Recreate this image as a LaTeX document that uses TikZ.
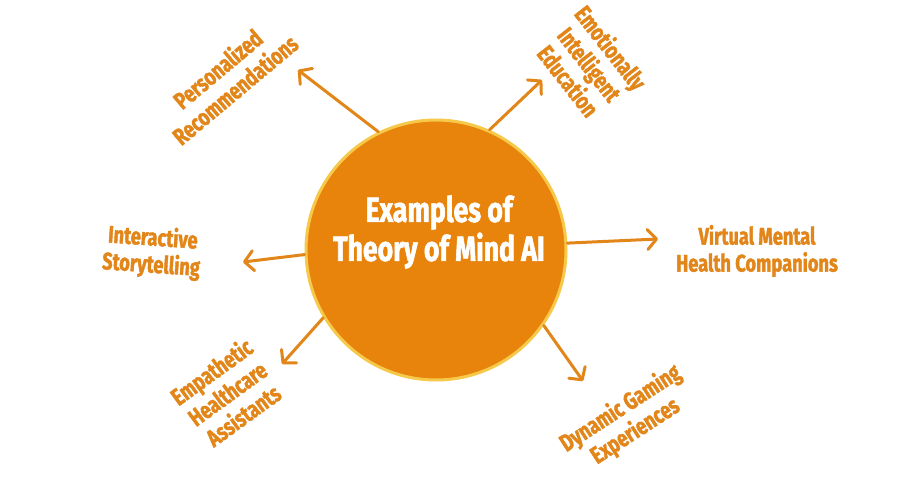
\documentclass[tikz,border=0pt]{standalone}
\usepackage{fontspec}
\usetikzlibrary{arrows.meta}
\newfontfamily\condfont{Fira Sans}[FakeStretch=0.76, BoldFeatures={FakeBold=1.6}]
\definecolor{tomorange}{HTML}{E8830C}
\definecolor{tomyellow}{HTML}{F6C94A}
\definecolor{tomlabel}{HTML}{E2861A}
\tikzset{
  hub/.style={circle, fill=tomorange, draw=tomyellow, line width=3pt,
    minimum size=260pt},
  example/.style={text=tomlabel, align=center,
    font=\condfont\bfseries\fontsize{24}{27}\selectfont},
  spoke/.style={draw=tomlabel, line width=3pt, line cap=round,
    -{Straight Barb[length=9pt, width=20pt, line width=3pt, round]}}
}
\begin{document}
\begin{tikzpicture}[x=1pt, y=1pt]
        \useasboundingbox[fill=white] (0,0) rectangle (900,480);
        \node[hub] (c) at (436,230) {};
        \node[text=white, align=center, font=\condfont\bfseries\fontsize{35}{39}\selectfont] (title) at (439,248) {Examples of\\Theory of Mind AI};
        % arrow tips
        \coordinate (t1) at (298,410);
        \coordinate (t2) at (542,400);
        \coordinate (t3) at (243,218);
        \coordinate (t4) at (658,241);
        \coordinate (t5) at (282,116);
        \coordinate (t6) at (583,99);
        \draw[spoke] (c.116) -- (t1);
        \draw[spoke] (c.66) -- (t2);
        \draw[spoke] (c.182) -- (t3);
        \draw[spoke] (c.3) -- (t4);
        \draw[spoke] (c.211) -- (t5);
        \draw[spoke] (c.325) -- (t6);
        % labels
        \node[example, rotate=40] (recom) at (226,401) {Personalized\\Recommendations};
        \node[example, rotate=-52] (edu) at (590,416) {Emotionally\\Intelligent\\Education};
        \node[example, rotate=-4] (story) at (152,228) {Interactive\\Storytelling};
        \node[example] (mental) at (757,229) {Virtual Mental\\Health Companions};
        \node[example, rotate=36] (health) at (227,87) {Empathetic\\Healthcare\\Assistants};
        \node[example, rotate=33] (gaming) at (628,60) {Dynamic Gaming\\Experiences};
\end{tikzpicture}
\end{document}
